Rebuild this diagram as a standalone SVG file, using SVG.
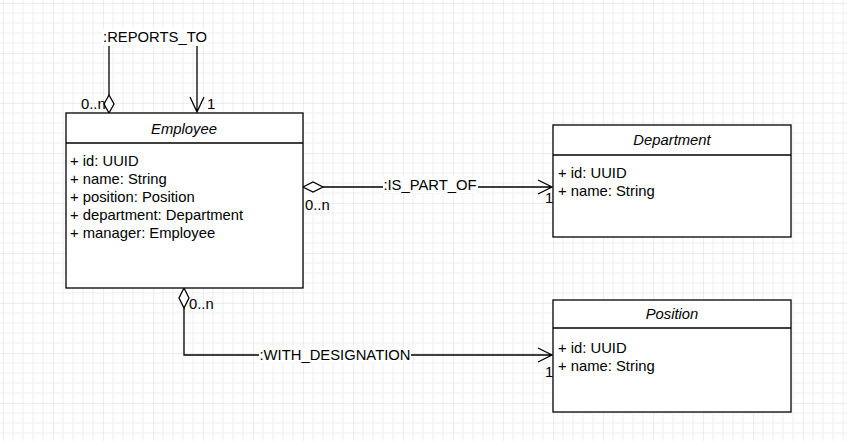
<svg xmlns="http://www.w3.org/2000/svg" width="847" height="441" viewBox="0 0 847 441">
<defs>
<pattern id="g" x="3" y="3" width="50" height="50" patternUnits="userSpaceOnUse">
<path d="M10 0V50M20 0V50M30 0V50M40 0V50M0 10H50M0 20H50M0 30H50M0 40H50" stroke="#efefef" stroke-width="1" fill="none"/>
<path d="M0 0V50M0 0H50" stroke="#dcdcdc" stroke-width="1" fill="none"/>
</pattern>
</defs>
<style>
text{font-family:"Liberation Sans",Arial,sans-serif;font-size:14.8px;fill:#000}
.t{font-style:italic;text-anchor:middle}
.box{fill:#fff;stroke:#000;stroke-width:1.3}
.ln{fill:none;stroke:#000;stroke-width:1.3}
.dm{fill:#fff;stroke:#000;stroke-width:1.3}
.lb{fill:#fff}
</style>
<rect width="847" height="441" fill="#fff"/>
<rect width="847" height="441" fill="url(#g)"/>
<g id="connectors">
<path class="ln" d="M109 46V95"/>
<path class="dm" d="M109 95L114 104L109 113L104 104Z"/>
<path class="ln" d="M197 46V112M190 97L197 112L204 97"/>
<rect class="lb" x="102" y="29" width="106" height="16"/>
<text x="155" y="42" text-anchor="middle">:REPORTS_TO</text>
<text x="81" y="109">0..n</text>
<text x="207" y="109">1</text>
<path class="dm" d="M303 187L313 182L323 187L313 192Z"/>
<path class="ln" d="M323 187H552M538 180L552 187L538 194"/>
<rect class="lb" x="383" y="177" width="95" height="16"/>
<text x="430" y="190" text-anchor="middle">:IS_PART_OF</text>
<text x="305" y="210">0..n</text>
<text x="545" y="203">1</text>
<path class="dm" d="M184 288L189 298L184 308L179 298Z"/>
<path class="ln" d="M184 308V355H552M538 348L552 355L538 362"/>
<rect class="lb" x="259" y="347" width="152" height="16"/>
<text x="335" y="360" text-anchor="middle">:WITH_DESIGNATION</text>
<text x="189" y="309">0..n</text>
<text x="545" y="377">1</text>
</g>
<g id="employee">
<rect class="box" x="66" y="113" width="237" height="175"/>
<path class="ln" d="M66 143H303"/>
<text class="t" x="184" y="134">Employee</text>
<text x="70" y="166">+ id: UUID</text>
<text x="70" y="184">+ name: String</text>
<text x="70" y="202">+ position: Position</text>
<text x="70" y="220">+ department: Department</text>
<text x="70" y="238">+ manager: Employee</text>
</g>
<g id="department">
<rect class="box" x="553" y="125" width="238" height="112"/>
<path class="ln" d="M553 155H791"/>
<text class="t" x="672" y="145">Department</text>
<text x="558" y="178">+ id: UUID</text>
<text x="558" y="196">+ name: String</text>
</g>
<g id="position">
<rect class="box" x="553" y="300" width="238" height="112"/>
<path class="ln" d="M553 328H791"/>
<text class="t" x="672" y="319">Position</text>
<text x="558" y="353">+ id: UUID</text>
<text x="558" y="371">+ name: String</text>
</g>
</svg>
